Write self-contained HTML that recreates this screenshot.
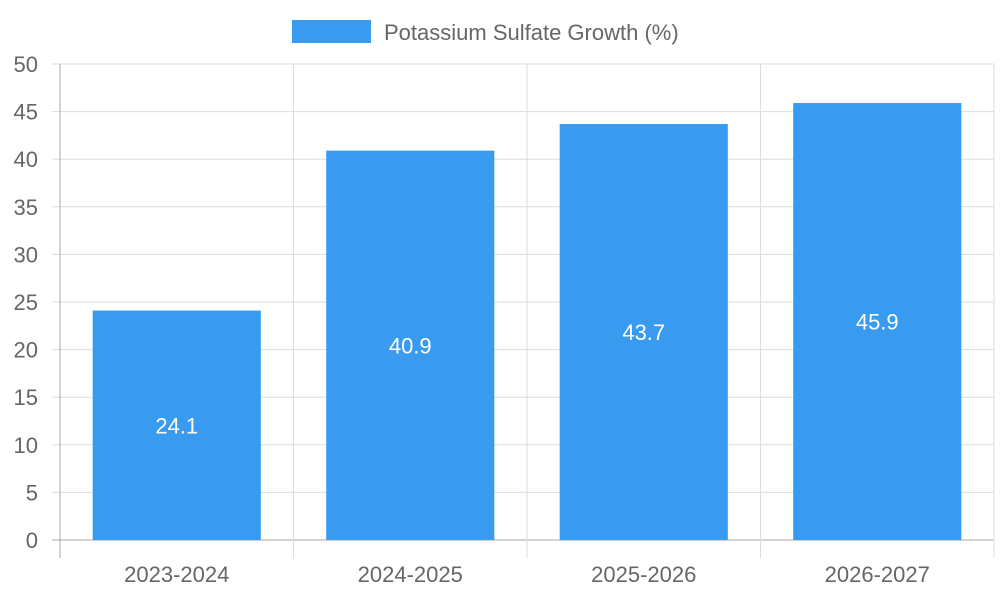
<!DOCTYPE html>
<html><head><meta charset="utf-8"><style>
html,body{margin:0;padding:0;background:#fff;}
svg{display:block;font-family:"Liberation Sans",sans-serif;}
</style></head><body>
<svg id="chart" width="1000" height="600">
<g>
<rect x="292" y="20" width="79" height="23" fill="#389bef"/>
<text x="384" y="40" font-size="22" fill="#666">Potassium Sulfate Growth (%)</text>
</g>
</svg>
<script>
const categories = ["2023-2024","2024-2025","2025-2026","2026-2027"];
const values = [24.1, 40.9, 43.7, 45.9];
const yTicks = [0,5,10,15,20,25,30,35,40,45,50];
const NS="http://www.w3.org/2000/svg";
const svg=document.getElementById('chart');
const L=60,R=994,T=64,B=540,yMax=50;
const y=v=>B-(v/yMax)*(B-T);
const bw=(R-L)/categories.length;
const xc=i=>L+bw*(i+0.5);
function mk(tag,attrs,parent){const e=document.createElementNS(NS,tag);for(const k in attrs)e.setAttribute(k,attrs[k]);(parent||svg).appendChild(e);return e;}
const grid=mk('g',{});


yTicks.forEach(t=>{
  const l=mk('line',{x1:L-8,x2:R,y1:y(t),y2:y(t),stroke:t===0?'#aaa':'#ddd','stroke-width':1},grid);
  
  
  const tx=mk('text',{x:38,y:y(t)+8,'text-anchor':'end','font-size':22,fill:'#666'});
  tx.textContent=t;
  
  
});
for(let i=0;i<=categories.length;i++){
  const x=L+bw*i;
  const l=mk('line',{x1:x,x2:x,y1:T,y2:B+18,stroke:i===0?'#aaa':'#ddd','stroke-width':1},grid);
  
  
}
categories.forEach((c,i)=>{
  const w=bw*0.72;
  const r=mk('rect',{x:xc(i)-w/2,y:y(values[i]),width:w,height:B-y(values[i]),fill:'#389bef'});
  
  
  const v=mk('text',{x:xc(i),y:(y(values[i])+B)/2+8,'text-anchor':'middle','font-size':22,fill:'#fff'});
  v.textContent=values[i];
  
  
  const xl=mk('text',{x:xc(i),y:582,'text-anchor':'middle','font-size':22,fill:'#666'});
  xl.textContent=c;
  
  
});
</script>
</body></html>
